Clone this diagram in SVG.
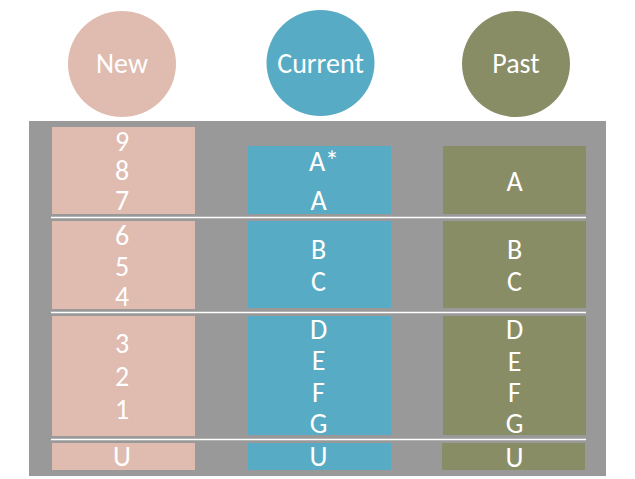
<svg xmlns="http://www.w3.org/2000/svg" width="635" height="479" viewBox="0 0 635 479">
<style>
.t{font-family:Carlito,"Open Sans","Noto Sans",sans-serif;font-size:28px;fill:#ffffff;text-anchor:middle}
.new{fill:#E0BBAF}
.cur{fill:#58ABC4}
.past{fill:#898D65}
.sep{stroke:#ffffff;stroke-width:1.6}
</style>
<rect width="635" height="479" fill="#ffffff"/>
<g id="header-new"><ellipse class="new" cx="122" cy="64" rx="54" ry="53"/><text class="t" x="122" y="73">New</text></g>
<g id="header-current"><ellipse class="cur" cx="320.5" cy="63" rx="54" ry="53"/><text class="t" x="320.5" y="73">Current</text></g>
<g id="header-past"><ellipse class="past" cx="516" cy="64" rx="54" ry="53"/><text class="t" x="516" y="73">Past</text></g>
<rect id="panel" x="29" y="121" width="577" height="355" fill="#999999"/>
<g id="separators">
<line class="sep" x1="51" y1="217.5" x2="586" y2="217.5"/>
<line class="sep" x1="51" y1="312.5" x2="586" y2="312.5"/>
<line class="sep" x1="51" y1="439.5" x2="586" y2="439.5"/>
</g>
<g id="new-1"><rect class="new" x="52" y="127" width="143" height="87"/><text class="t" x="122" y="151">9</text><text class="t" x="122" y="180">8</text><text class="t" x="122" y="209.5">7</text></g>
<g id="new-2"><rect class="new" x="52" y="221" width="143" height="88"/><text class="t" x="122" y="245">6</text><text class="t" x="122" y="275.5">5</text><text class="t" x="122" y="306">4</text></g>
<g id="new-3"><rect class="new" x="52" y="316" width="143" height="120"/><text class="t" x="122" y="352.5">3</text><text class="t" x="122" y="385.5">2</text><text class="t" x="122" y="418.5">1</text></g>
<g id="new-4"><rect class="new" x="52" y="443" width="143" height="27"/><text class="t" x="122" y="466">U</text></g>
<g id="cur-1"><rect class="cur" x="248" y="146" width="143" height="68"/><text class="t" x="324" y="171">A*</text><text class="t" x="318.5" y="210">A</text></g>
<g id="cur-2"><rect class="cur" x="248" y="221" width="143" height="87"/><text class="t" x="318.5" y="259">B</text><text class="t" x="318.5" y="291">C</text></g>
<g id="cur-3"><rect class="cur" x="248" y="316" width="143" height="119"/><text class="t" x="318.5" y="339">D</text><text class="t" x="318.5" y="370">E</text><text class="t" x="318.5" y="401.5">F</text><text class="t" x="318.5" y="432.5">G</text></g>
<g id="cur-4"><rect class="cur" x="248" y="443" width="143" height="27"/><text class="t" x="318.5" y="466">U</text></g>
<g id="past-1"><rect class="past" x="443" y="146" width="143" height="68"/><text class="t" x="514.5" y="191">A</text></g>
<g id="past-2"><rect class="past" x="443" y="221" width="143" height="87"/><text class="t" x="514.5" y="259">B</text><text class="t" x="514.5" y="290.5">C</text></g>
<g id="past-3"><rect class="past" x="443" y="316" width="143" height="119"/><text class="t" x="514.5" y="339">D</text><text class="t" x="514.5" y="371">E</text><text class="t" x="514.5" y="401.5">F</text><text class="t" x="514.5" y="432.5">G</text></g>
<g id="past-4"><rect class="past" x="442" y="443" width="143" height="27"/><text class="t" x="514.5" y="466.5">U</text></g>
</svg>
